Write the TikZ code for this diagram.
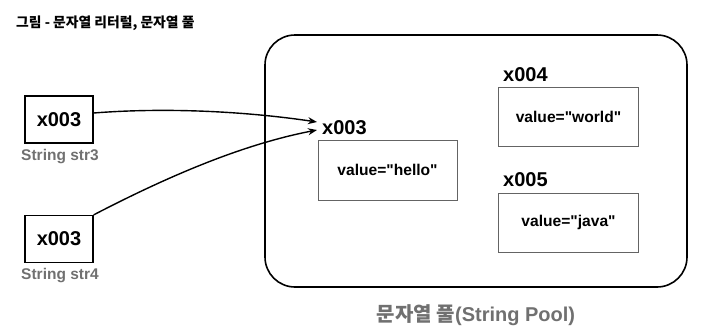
\documentclass[tikz,border=0pt]{standalone}
\usepackage{fontspec}
\setmainfont{Liberation Sans}
\newfontfamily\plainfont{Liberation Sans}[Ligatures=ResetAll]
\newfontfamily\krfont{Noto Sans CJK KR}
\usetikzlibrary{arrows.meta}
\definecolor{txtgray}{RGB}{112,112,112}
\definecolor{boxgray}{RGB}{100,100,100}
\tikzset{
  refbox/.style={draw=black, line width=1.2pt, minimum width=68pt, minimum height=47pt, inner sep=0pt, font=\fontsize{20}{22}\selectfont\bfseries},
  valbox/.style={draw=boxgray, line width=0.8pt, minimum width=140pt, minimum height=59pt, inner sep=0pt, font=\plainfont\fontsize{15.6}{17}\selectfont\bfseries},
  addr/.style={anchor=base west, inner sep=0pt, font=\fontsize{20}{22}\selectfont\bfseries},
  varname/.style={anchor=base, inner sep=0pt, text=txtgray, font=\fontsize{15.5}{17}\selectfont\bfseries},
  ptr/.style={line width=1.4pt, -{Stealth[length=9pt, width=7pt]}},
}
\begin{document}
\begin{tikzpicture}[x=1pt, y=-1pt]
\useasboundingbox (0,0) rectangle (710,333);
\node[anchor=base west, inner sep=0pt, font=\krfont\bfseries\fontsize{13.8}{15}\selectfont] (title) at (16,27) {그림 - 문자열 리터럴, 문자열 풀};
% pool
\node[draw=black, line width=1.6pt, rounded corners=30pt, minimum width=422pt, minimum height=252pt] (pool) at (476,161) {};
\node[anchor=base, inner sep=0pt, text=txtgray, font=\fontsize{20}{22}\selectfont\bfseries] (poollabel) at (476,321) {{\krfont 문자열 풀}(String Pool)};
% left references
\node[refbox] (r3) at (59,119.5) {x003};
\node[varname] (s3) at (60,160) {String str3};
\node[refbox] (r4) at (59,239) {x003};
\node[varname] (s4) at (60,279) {String str4};
% pool objects
\node[addr] (a3) at (322,134) {x003};
\node[valbox, minimum width=139pt, minimum height=60pt] (hello) at (387.5,170) {value="hello"};
\node[addr] (a4) at (503,81) {x004};
\node[valbox] (world) at (568.5,116.5) {value="world"};
\node[addr] (a5) at (503,186) {x005};
\node[valbox] (java) at (568.5,222.5) {value="java"};
% pointers
\coordinate (t3) at (317,122);
\coordinate (t4) at (317,130);
\draw[ptr] (r3.east |- 0,113) .. controls (170,107) and (250,112) .. (t3);
\draw[ptr] (r4.north east) .. controls (180,170) and (250,143) .. (t4);
\end{tikzpicture}
\end{document}
